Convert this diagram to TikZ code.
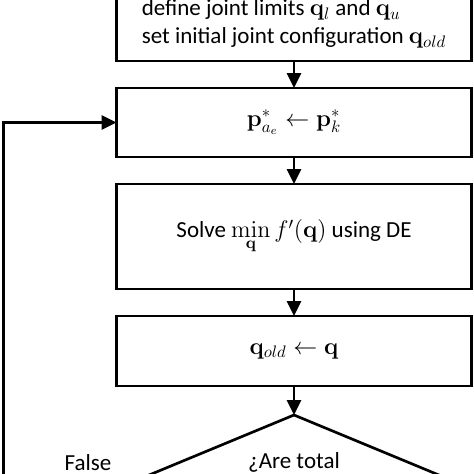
\documentclass[tikz,border=0pt]{standalone}
\usepackage[no-math]{fontspec}
\setmainfont{Carlito}
\usetikzlibrary{positioning, arrows.meta, shapes.geometric}

\begin{document}
\begin{tikzpicture}[
        node distance=16.2pt,
        block/.style={
            rectangle, minimum width=213pt, draw=black, line width=1.6pt,
            fill=white, inner sep=0pt, outer sep=0pt, font=\fontsize{13.8}{16.8}\selectfont
        },
        decisionbox/.style={
            diamond, minimum width=202.8pt, minimum height=84pt, draw=black,
            line width=1.6pt, inner sep=0pt, outer sep=0pt
        },
        label/.style={font=\fontsize{13.8}{16.8}\selectfont},
        arrow/.style={line width=1.6pt, -{Triangle[length=9pt, width=8.4pt]}}
    ]
    
    % Frame
    \path[use as bounding box, clip] (0,0) rectangle (284.4pt,-284.4pt);
    
    % Blocks
    \node (init) [block, minimum height=44.4pt, align=left] at (176.4pt,-14.4pt) {
        define joint limits $\mathbf{q}_l$ and $\mathbf{q}_u$\\
        set initial joint configuration $\mathbf{q}_{old}$
    };
    
    \node (update) [block, below=of init, minimum height=41.4pt] {
        $\mathbf{p}^*_{a_e} \leftarrow \mathbf{p}^*_k$
    };
    
    \node (solve) [block, below=of update, minimum height=63pt] {
        Solve $\min\limits_{\mathbf{q}} f'(\mathbf{q})$ using DE
    };
    
    \node (store) [block, below=of solve, minimum height=42pt] {
        $\mathbf{q}_{old} \leftarrow \mathbf{q}$
    };
    
    \node (decision) [decisionbox, below=17.4pt of store] {};
    \node (question) [label] at ([yshift=-28.2pt]decision.north) {¿Are total};
    
    % Forward arrows
    \draw [arrow] (init.south) -- (update.north);
    \draw [arrow] (update.south) -- (solve.north);
    \draw [arrow] (solve.south) -- (store.north);
    \draw [arrow] (store.south) -- (decision.north);
    
    % Loop back
    \coordinate (loop) at ([xshift=-67.8pt]update.west);
    \draw [arrow] (decision.west) -| (loop) -- (update.west);
    \node (false) [label] at ([xshift=-22.2pt, yshift=13.2pt]decision.west) {False};
    
\end{tikzpicture}
\end{document}
